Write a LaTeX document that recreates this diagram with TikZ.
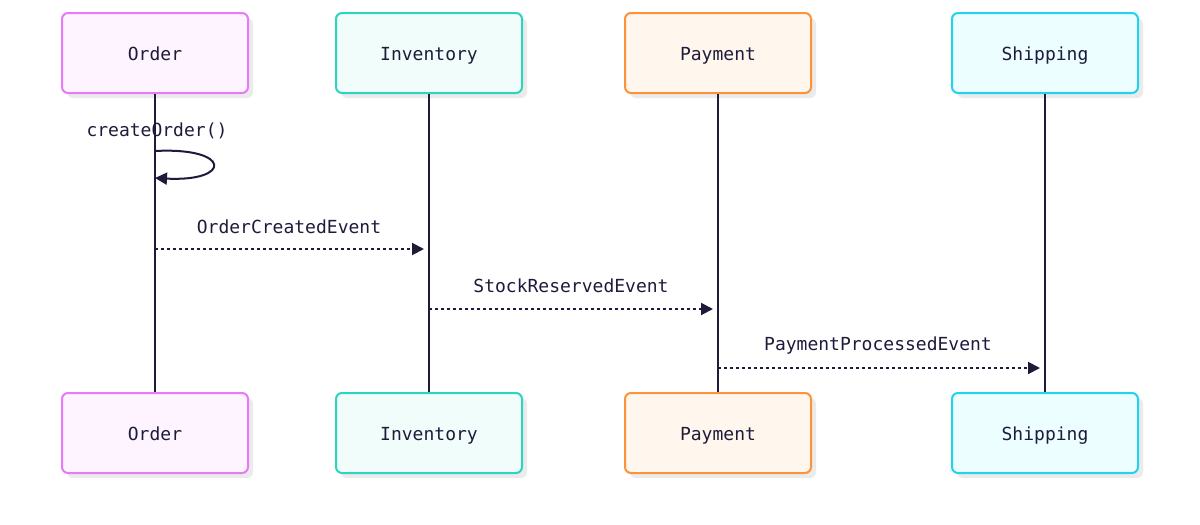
\documentclass[tikz,border=0pt]{standalone}
\usepackage{fontspec}
\setmonofont{DejaVu Sans Mono}
\usetikzlibrary{arrows.meta,shadows}
\definecolor{ink}{HTML}{1E1B3A}
\definecolor{orderB}{HTML}{E879F9}\definecolor{orderF}{HTML}{FDF4FF}
\definecolor{invB}{HTML}{2DD4BF}\definecolor{invF}{HTML}{F0FDFA}
\definecolor{payB}{HTML}{FB923C}\definecolor{payF}{HTML}{FFF7ED}
\definecolor{shipB}{HTML}{22D3EE}\definecolor{shipF}{HTML}{ECFEFF}
\begin{document}
\begin{tikzpicture}[x=1pt,y=-1pt,
  actor/.style={draw, line width=2pt, rounded corners=6pt,
    minimum width=186pt, minimum height=80pt, inner sep=0pt,
    text height=15pt, text depth=0pt,
    font=\ttfamily\fontsize{18}{21}\selectfont, text=ink,
    drop shadow={shadow xshift=5pt, shadow yshift=-5pt, fill=black!8, opacity=1}},
  life/.style={draw=ink, line width=2pt},
  msg/.style={draw=ink, line width=2pt, dash pattern=on 3pt off 3pt,
    -{Triangle[length=12pt,width=12pt,fill=ink]}},
  selfmsg/.style={draw=ink, line width=2pt, -{Triangle[length=12pt,width=12pt,fill=ink]}},
  lbl/.style={font=\ttfamily\fontsize{18}{21}\selectfont, text=ink, inner sep=0pt}]
\useasboundingbox (0,0) rectangle (1200,525);

% participants, top row
\node[actor, draw=orderB, fill=orderF] (o1) at (155,53) {Order};
\node[actor, draw=invB, fill=invF]     (i1) at (429,53) {Inventory};
\node[actor, draw=payB, fill=payF]     (p1) at (718,53) {Payment};
\node[actor, draw=shipB, fill=shipF]   (s1) at (1045,53) {Shipping};

% participants, bottom row
\node[actor, draw=orderB, fill=orderF] (o2) at (155,433) {Order};
\node[actor, draw=invB, fill=invF]     (i2) at (429,433) {Inventory};
\node[actor, draw=payB, fill=payF]     (p2) at (718,433) {Payment};
\node[actor, draw=shipB, fill=shipF]   (s2) at (1045,433) {Shipping};

% lifelines
\draw[life] (o1.south) -- (o2.north);
\draw[life] (i1.south) -- (i2.north);
\draw[life] (p1.south) -- (p2.north);
\draw[life] (s1.south) -- (s2.north);

% self call on Order
\coordinate (c0) at (o1.south |- 0,151);
\coordinate (c1) at (o1.south |- 0,178);
\draw[selfmsg] (c0) .. controls (232,147) and (232,182) .. (c1);
\node[lbl] (l0) at (157,131) {createOrder()};

% events
\coordinate (a1) at (o1.south |- 0,249);
\coordinate (b1) at ([xshift=-5pt]i1.south |- 0,249);
\draw[msg] (a1) -- (b1);
\node[lbl] (l1) at (289,227) {OrderCreatedEvent};

\coordinate (a2) at (i1.south |- 0,309);
\coordinate (b2) at ([xshift=-5pt]p1.south |- 0,309);
\draw[msg] (a2) -- (b2);
\node[lbl] (l2) at (571,286) {StockReservedEvent};

\coordinate (a3) at (p1.south |- 0,368);
\coordinate (b3) at ([xshift=-5pt]s1.south |- 0,368);
\draw[msg] (a3) -- (b3);
\node[lbl] (l3) at (878,346) {PaymentProcessedEvent};
\end{tikzpicture}
\end{document}
